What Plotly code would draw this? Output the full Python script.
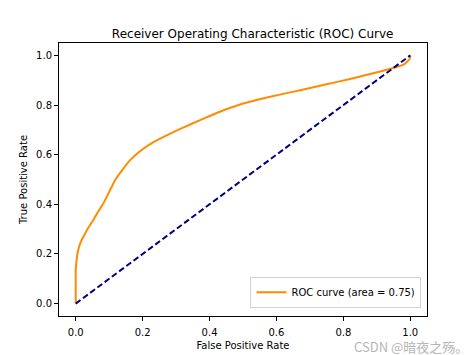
import plotly.graph_objects as go

fpr = [0.0, 0.0, 0.0, 0.003, 0.007, 0.014, 0.022, 0.035, 0.052, 0.066, 0.082, 0.1, 0.117, 0.14, 0.162, 0.19,
       0.231, 0.275, 0.321, 0.37, 0.421, 0.48, 0.546, 0.61, 0.671, 0.75, 0.82, 0.88, 0.94, 0.98, 0.998, 1.0]
tpr = [0.0, 0.08, 0.133, 0.18, 0.214, 0.245, 0.267, 0.3, 0.335, 0.368, 0.402, 0.45, 0.496, 0.54, 0.577, 0.612,
       0.65, 0.68, 0.709, 0.738, 0.768, 0.797, 0.822, 0.842, 0.86, 0.884, 0.905, 0.925, 0.946, 0.963, 0.985, 1.0]
diag_x = [0.0, 1.0]
diag_y = [0.0, 1.0]
roc_auc = 0.75
ticks = [0.0, 0.2, 0.4, 0.6, 0.8, 1.0]
tick_labels = ["0.0", "0.2", "0.4", "0.6", "0.8", "1.0"]

font = "DejaVu Sans"
fig = go.Figure()
fig.add_trace(go.Scatter(x=fpr, y=tpr, mode="lines", line=dict(color="darkorange", width=2, shape="spline", smoothing=0.3),
                         name=f"ROC curve (area = {roc_auc:.2f})"))
fig.add_trace(go.Scatter(x=diag_x, y=diag_y, mode="lines", line=dict(color="navy", width=2, dash="6px,3px"),
                         showlegend=False))

axis_common = dict(range=[-0.05, 1.05], tickvals=ticks, ticktext=tick_labels, ticks="outside", ticklen=4,
                   tickcolor="black", tickwidth=1, showline=True, linecolor="black", linewidth=1, mirror=True,
                   showgrid=False, zeroline=False, automargin=False,
                   tickfont=dict(family=font, size=10, color="black"))
fig.update_xaxes(**axis_common, ticklabelstandoff=3,
                 title=dict(text="False Positive Rate", font=dict(family=font, size=10, color="black"), standoff=4))
fig.update_yaxes(**axis_common, title=dict(text="True Positive Rate", font=dict(family=font, size=10, color="black"), standoff=6))

fig.update_layout(
    width=466, height=347,
    margin=dict(l=51, r=47, t=35, b=39),
    plot_bgcolor="white", paper_bgcolor="white",
    title=dict(text="Receiver Operating Characteristic (ROC) Curve", x=0.525, xanchor="center", y=0.925, yanchor="middle",
               font=dict(family=font, size=12, color="black")),
    legend=dict(x=0.985, y=0.03, xanchor="right", yanchor="bottom", bordercolor="#d0d0d0", borderwidth=1,
                bgcolor="rgba(255,255,255,0.8)", font=dict(family=font, size=10, color="black")),
    annotations=[dict(text="CSDN @暗夜之殇。", xref="paper", yref="paper", x=1.117, y=-0.11, xanchor="right",
                      yanchor="middle", showarrow=False, font=dict(family="Noto Sans CJK SC", size=13, color="#b5b5b5"))],
)
fig.write_html("out.html")
